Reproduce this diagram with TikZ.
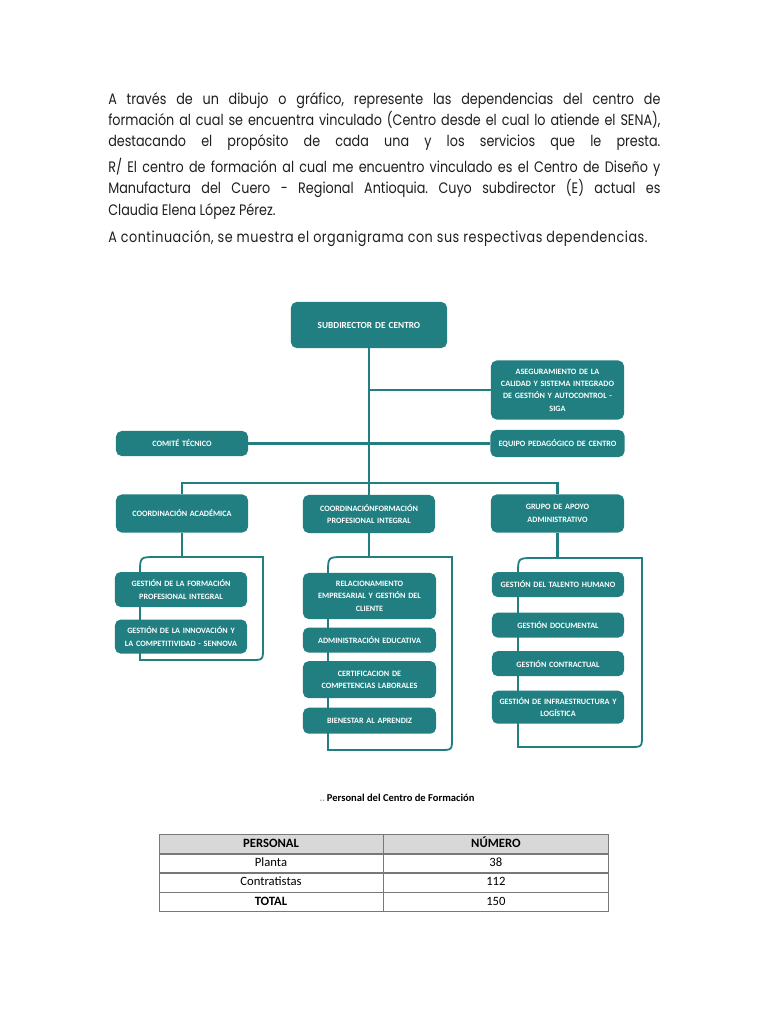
\documentclass[tikz,border=0pt]{standalone}
\usepackage{fontspec}
\setmainfont{Poppins}[FakeStretch=0.84]
\newfontfamily\orgfont{Carlito}
\usepackage{tikz}
\usetikzlibrary{positioning}
\setlength{\parindent}{0pt}
\frenchspacing
\definecolor{sdteal}{RGB}{33,127,130}
\definecolor{sdink}{RGB}{30,30,30}
\definecolor{sdgrid}{RGB}{120,120,120}
\definecolor{sdhead}{RGB}{216,216,216}
\tikzset{
  %% ---- boxes ----
  orgbox/.style   = {rectangle, rounded corners=4pt, fill=sdteal, text=white,
                     text width=#1, align=center, inner sep=0pt,
                     font=\orgfont\bfseries\fontsize{5.8}{8.8}\selectfont},
  orgbox/.default = 3.3cm,
  cell/.style     = {rectangle, draw=sdgrid, line width=0.6pt, fill=#1,
                     minimum width=5.6cm, minimum height=0.4625cm, inner sep=0pt,
                     text height=6.5pt, text depth=2pt,
                     font=\orgfont\fontsize{9}{10}\selectfont},
  cell/.default   = white,
  bodytext/.style = {anchor=north west, inner sep=0pt, text width=13.8cm,
                     align=justify, text=sdink,
                     font=\fontsize{10.8}{15.2}\selectfont},
  %% ---- lines ----
  link/.style     = {draw=sdteal, line width=1.9pt},
  bracket/.style  = {draw=sdteal, line width=1.3pt},
}

\begin{document}
\begin{tikzpicture}[x=0.025cm, y=-0.025cm]
\fill[white] (0,0) rectangle (768,1024);
\useasboundingbox (0,0) rectangle (768,1024);

%% text above the chart
\node[bodytext] (intro) at (108,92) {\hyphenpenalty=10000
  A través de un dibujo o gráfico, represente las dependencias del centro de\linebreak
  formación al cual se encuentra vinculado (Centro desde el cual lo atiende el SENA),\linebreak
  destacando el propósito de cada una y los servicios que le presta.\parfillskip=0pt\par};
\node[bodytext] (answer) at (108,158) {\hyphenpenalty=10000
  R/ El centro de formación al cual me encuentro vinculado es el Centro de Diseño y\linebreak
  Manufactura del Cuero - Regional Antioquia. Cuyo subdirector (E) actual es\linebreak
  Claudia Elena López Pérez.};
\node[bodytext] (lead) at (108,230) {\hyphenpenalty=10000\addfontfeature{LetterSpace=3.5}%
  A continuación, se muestra el organigrama con sus respectivas dependencias.};

%% top of the chart
\node[orgbox=3.9cm, minimum height=1.15cm,
      font=\orgfont\bfseries\fontsize{6.6}{8}\selectfont] (subdir) at (369,325) {SUBDIRECTOR DE CENTRO};
\node[orgbox=3.325cm, minimum height=1.475cm] (siga) at (557.5,390) {ASEGURAMIENTO DE LA\\CALIDAD Y SISTEMA INTEGRADO\\DE GESTIÓN Y AUTOCONTROL -\\SIGA};
\node[orgbox, minimum height=0.625cm] (comite) at (182,443.5) {COMITÉ TÉCNICO};
\node[orgbox=3.35cm, minimum height=0.675cm] (equipo) at (557.5,443.5) {EQUIPO PEDAGÓGICO DE CENTRO};
\node[orgbox, minimum height=0.95cm] (acad) at (182,513.5) {COORDINACIÓN ACADÉMICA};
\node[orgbox, minimum height=0.95cm] (cfpi) at (369,514) {COORDINACIÓNFORMACIÓN\\PROFESIONAL INTEGRAL};
\node[orgbox=3.325cm, minimum height=0.95cm] (apoyo) at (557.5,513.5) {GRUPO DE APOYO\\ADMINISTRATIVO};

\coordinate (bus) at (369,483);
\draw[link] (subdir.south) -- (cfpi.north);
\draw[link] (subdir.south |- siga.west) -- (siga.west);
\draw[link] (comite.east) -- (equipo.west);
\draw[link] (acad.north) |- (bus) -| (apoyo.north);

%% brackets behind the units
\coordinate (ltop) at (140,557);
\coordinate (mtop) at (328,557);
\coordinate (rtop) at (518,558);
\draw[link] (acad.south) -- (acad.south |- ltop);
\draw[link] (cfpi.south) -- (cfpi.south |- mtop);
\draw[link] (apoyo.south) -- (apoyo.south |- rtop);
\draw[bracket] (140,660) -- (140,573) .. controls (140,557) .. (156,557) -- (263,557)
  -- (263,648) .. controls (263,660) .. (251,660) -- cycle;
\draw[bracket] (328,750) -- (328,573) .. controls (328,557) .. (344,557) -- (452,557)
  -- (452,738) .. controls (452,750) .. (440,750) -- cycle;
\draw[bracket] (518,747) -- (518,574) .. controls (518,558) .. (534,558) -- (642,558)
  -- (642,735) .. controls (642,747) .. (630,747) -- cycle;

%% units
\node[orgbox, minimum height=0.875cm] (gfpi) at (181,589.5) {GESTIÓN DE LA FORMACIÓN\\PROFESIONAL INTEGRAL};
\node[orgbox, minimum height=0.85cm, below=0.3cm of gfpi] (sennova) {GESTIÓN DE LA INNOVACIÓN Y\\LA COMPETITIVIDAD - SENNOVA};
\node[orgbox=3.325cm, minimum height=1.15cm] (relac) at (369.5,596) {RELACIONAMIENTO\\EMPRESARIAL Y GESTIÓN DEL\\CLIENTE};
\node[orgbox=3.325cm, minimum height=0.625cm, below=0.2cm of relac] (admin) {ADMINISTRACIÓN EDUCATIVA};
\node[orgbox=3.325cm, minimum height=0.925cm, below=0.2cm of admin] (certif) {CERTIFICACION DE\\COMPETENCIAS LABORALES};
\node[orgbox=3.325cm, minimum height=0.65cm, below=0.225cm of certif] (bienestar) {BIENESTAR AL APRENDIZ};
\node[orgbox, minimum height=0.625cm] (talento) at (558,584.5) {GESTIÓN DEL TALENTO HUMANO};
\node[orgbox, minimum height=0.625cm, below=0.375cm of talento] (docum) {GESTIÓN DOCUMENTAL};
\node[orgbox, minimum height=0.625cm, below=0.325cm of docum] (contrac) {GESTIÓN CONTRACTUAL};
\node[orgbox, minimum height=0.825cm, below=0.35cm of contrac] (infra) {GESTIÓN DE INFRAESTRUCTURA Y\\LOGÍSTICA};

%% staff table
\node[font=\orgfont\bfseries\fontsize{7.5}{9}\selectfont] (caption) at (397,798) {{\color{black!35}..}\,Personal del Centro de Formación};
\node[cell=sdhead, font=\orgfont\bfseries\fontsize{9}{10}\selectfont] (hpers) at (271,844) {PERSONAL};
\node[cell=sdhead, font=\orgfont\bfseries\fontsize{9}{10}\selectfont, right=0pt of hpers] (hnum) {NÚMERO};
\node[cell, below=0pt of hpers] (planta) {Planta};
\node[cell, below=0pt of hnum] (nplanta) {38};
\node[cell, below=0pt of planta] (contra) {Contratistas};
\node[cell, below=0pt of nplanta] (ncontra) {112};
\node[cell, font=\orgfont\bfseries\fontsize{9}{10}\selectfont, below=0pt of contra] (total) {TOTAL};
\node[cell, below=0pt of ncontra] (ntotal) {150};
\end{tikzpicture}
\end{document}
